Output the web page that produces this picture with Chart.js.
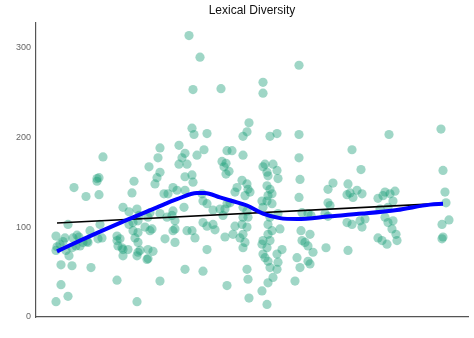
<!DOCTYPE html>
<html lang="en">
<head>
   <meta charset="UTF-8">
   <title>Lexical Diversity</title>
   <script src="https://cdn.jsdelivr.net/npm/chart.js"></script>
   <style>
       body {
           margin: 0;
           padding: 0;
           background: #fff;
       }
       #wrap {
           width: 474px;
           height: 338px;
       }
   </style>
</head>
<body>
   <div id="wrap"><canvas id="myChart"></canvas></div>
   <script>
       // scatter points: position along the x axis (no labels shown) and lexical diversity
       const pointX = [
           20, 21, 20, 24, 27, 29, 32, 30, 33, 25, 36, 25, 32, 20, 37, 41, 43, 40, 36, 44,
           47, 51, 54, 52, 55, 64, 66, 62, 38, 50, 63, 61, 61, 63, 67, 81, 84, 81, 82, 86,
           87, 92, 87, 81, 87, 93, 101, 98, 96, 97, 99, 102, 101, 102, 101, 93, 97, 103,
           153, 164, 157, 185, 156, 158, 171, 143, 124, 149, 146, 151, 143, 168, 161, 122,
           113, 124, 121, 119, 149, 156, 157, 137, 141, 132, 128, 149, 167, 171, 166, 148,
           177, 184, 114, 112, 124, 131, 137, 139, 136, 102, 109, 114, 116, 139, 137, 151,
           156, 159, 129, 167, 171, 177, 179, 139, 102, 104, 112, 117, 112, 111, 171, 149,
           167, 124, 189,
           263, 227, 227, 213, 211, 207, 234, 241, 263, 191, 196, 186, 190, 188, 193, 190,
           207, 227, 229, 231, 232, 237, 241, 242, 263, 206, 211, 212, 214, 209, 201, 199,
           231, 234, 232, 236, 231, 236, 227, 226, 264, 263, 191, 194, 189, 187, 207, 211,
           212, 207, 206, 211, 207, 204, 209, 207, 199, 197, 234, 232, 236, 232, 234, 227,
           231, 227, 229, 232, 234, 226, 242, 244, 246, 241, 242, 241, 261, 259, 264, 211,
           212, 191, 237, 232, 213, 226, 231,
           316, 325, 297, 292, 312, 311, 314, 321, 326, 317, 292, 294, 289, 292, 266, 272,
           275, 311, 316, 324, 326, 329, 265, 274, 266, 269, 272, 277, 290, 312, 272, 274,
           353, 405, 407, 409, 410, 342, 347, 349, 354, 359, 357, 344, 352, 349, 352, 357,
           356, 360, 361, 342, 346, 351, 406, 413, 407, 406
       ];
       const pointY = [
           90, 78, 74, 81, 84, 88, 103, 74, 68, 58, 57, 36, 23, 17, 88, 91, 89, 79, 77, 79,
           83, 84, 96, 83, 55, 103, 88, 87, 144, 134, 136, 154, 151, 155, 178, 90, 87, 85, 79, 77,
           75, 75, 68, 41, 122, 117, 120, 151, 138, 96, 88, 94, 68, 72, 17, 103, 105, 113,
           313, 289, 253, 254, 210, 203, 204, 191, 188, 182, 177, 170, 170, 186, 180, 177,
           167, 161, 155, 148, 156, 158, 150, 144, 141, 137, 137, 141, 129, 126, 137, 122,
           119, 120, 116, 111, 115, 111, 118, 107, 113, 107, 100, 96, 98, 98, 96, 96,
           96, 88, 87, 105, 101, 103, 97, 83, 83, 74, 75, 73, 65, 64, 75, 53,
           51, 40, 89,
           280, 261, 249, 216, 206, 201, 201, 204, 203, 185, 185, 173, 171, 167, 162, 159,
           180, 167, 170, 161, 157, 170, 163, 154, 177, 152, 148, 142, 139, 135, 144, 139,
           146, 142, 135, 137, 129, 126, 122, 129, 153, 133, 126, 127, 120, 113, 122, 118,
           111, 111, 103, 100, 92, 88, 83, 77, 101, 92, 111, 103, 96, 92, 85, 85,
           77, 70, 66, 62, 55, 81, 115, 98, 75, 70, 61, 53, 66, 40, 55, 53,
           42, 35, 44, 38, 21, 29, 14,
           186, 164, 149, 142, 148, 136, 138, 141, 137, 133, 127, 124, 115, 112, 116, 115,
           113, 105, 103, 107, 100, 109, 96, 92, 85, 83, 79, 72, 77, 74, 62, 59,
           203, 209, 163, 139, 127, 132, 135, 139, 137, 140, 129, 120, 122, 111, 105, 107,
           98, 92, 85, 88, 85, 81, 103, 108, 89, 87
       ];

       // straight linear fit (black)
       const linearX = [21, 407];
       const linearY = [104.5, 126.4];

       // smoothed fit (blue)
       const smoothX = [21, 44, 64, 91, 121, 141, 161, 169, 184, 196, 211, 227, 244, 261, 294, 327, 361, 394, 407];
       const smoothY = [73, 85, 95, 108, 122, 131, 138, 138, 133, 129, 124, 115, 110, 109, 112, 115, 119, 125, 126];

       const yTicks = [0, 100, 200, 300];

       const toPoints = (xs, ys) => xs.map((x, i) => ({ x: x, y: ys[i] }));

       // title centred over the plot area, like the original
       const plotTitle = {
           id: 'plotTitle',
           afterDraw(chart) {
               const { ctx, chartArea } = chart;
               ctx.save();
               ctx.font = '12px "Liberation Sans", Arial, sans-serif';
               ctx.fillStyle = '#111';
               ctx.textAlign = 'center';
               ctx.textBaseline = 'middle';
               ctx.fillText('Lexical Diversity', (chartArea.left + chartArea.right) / 2, 11);
               ctx.restore();
           }
       };

       const ctx = document.getElementById('myChart').getContext('2d');
       new Chart(ctx, {
           type: 'scatter',
           data: {
               datasets: [
                   {
                       label: 'smooth',
                       data: toPoints(smoothX, smoothY),
                       showLine: true,
                       borderColor: '#0000ff',
                       borderWidth: 4,
                       pointRadius: 0,
                       cubicInterpolationMode: 'monotone',
                       order: 1
                   },
                   {
                       label: 'linear',
                       data: toPoints(linearX, linearY),
                       showLine: true,
                       borderColor: '#000000',
                       borderWidth: 1.6,
                       pointRadius: 0,
                       order: 2
                   },
                   {
                       label: 'speeches',
                       data: toPoints(pointX, pointY),
                       backgroundColor: 'rgba(27, 158, 119, 0.42)',
                       borderWidth: 0,
                       pointRadius: 4.6,
                       order: 3
                   }
               ]
           },
           plugins: [plotTitle],
           options: {
               responsive: true,
               maintainAspectRatio: false,
               animation: false,
               layout: {
                   padding: { top: 23, right: 6, bottom: 0, left: 0 }
               },
               plugins: {
                   legend: { display: false },
                   tooltip: { enabled: false }
               },
               scales: {
                   x: {
                       type: 'linear',
                       min: 0,
                       max: 432,
                       grid: { display: false, drawTicks: false },
                       border: { display: true, color: '#555', width: 1.2 },
                       ticks: { display: false },
                       afterFit: scale => { scale.height = 21; }
                   },
                   y: {
                       min: 0,
                       max: 327,
                       grid: { display: false, drawTicks: false },
                       border: { display: true, color: '#555', width: 1.2 },
                       afterFit: scale => { scale.width = 36; },
                       afterBuildTicks: scale => {
                           scale.ticks = yTicks.map(v => ({ value: v }));
                       },
                       ticks: {
                           padding: 5,
                           color: '#666',
                           font: { family: '"Liberation Sans", Arial, sans-serif', size: 9 }
                       }
                   }
               }
           }
       });
   </script>
</body>
</html>
